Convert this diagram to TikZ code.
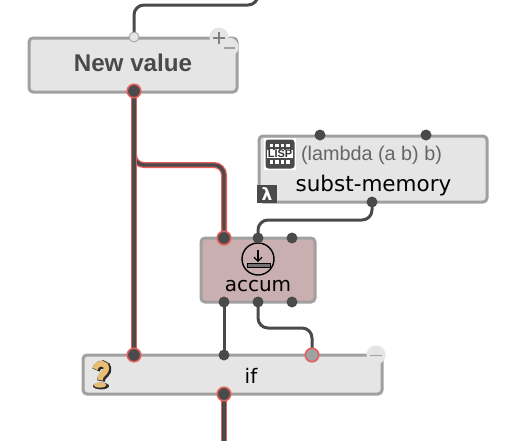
\documentclass[tikz,border=0pt]{standalone}
\usepackage{xcolor}
\usepackage{fontspec}
\setmainfont{DejaVu Sans}
\newfontfamily\helvfont{Liberation Sans}
\definecolor{colBox}{HTML}{E5E5E5}
\definecolor{colBoxLine}{HTML}{A0A0A0}
\definecolor{colAccum}{HTML}{C9AFAF}
\definecolor{colWire}{HTML}{4A4A4A}
\definecolor{colRing}{HTML}{E2605E}
\definecolor{colTan}{HTML}{E8BE72}
\usetikzlibrary{arrows.meta, positioning, calc}
\pgfdeclarelayer{front}
\pgfsetlayers{main,front}
\tikzset{
	boxNode/.style={draw=colBoxLine, fill=colBox, line width=3pt, rounded corners=4pt, inner sep=0pt},
	portNode/.style={circle, fill=colWire, minimum size=11pt, inner sep=0pt},
	portSel/.style={portNode, draw=colRing, line width=1.6pt, minimum size=13.5pt},
	wireNode/.style={colWire, line width=3pt, rounded corners=10pt},
	wireSel/.style={wireNode, line width=3.4pt, preaction={draw=colRing, line width=6pt}},
	btnNode/.style={circle, fill=colBox, minimum size=19pt, inner sep=0pt},
}

\begin{document}
\begin{tikzpicture}[x=1pt, y=-1pt]
	\useasboundingbox (0,0) rectangle (508,440);
	% boxes
	\node[boxNode, minimum width=208pt, minimum height=54pt] (boxValue) at (133,65) {};
	\node[font=\helvfont\bfseries\fontsize{24.2}{24}\selectfont, text=colWire] (txtValue) at (133,62.5) {New value};
	\node[boxNode, minimum width=228pt, minimum height=66pt] (boxSubst) at (373,169) {};
	\node[boxNode, fill=colAccum, minimum width=114pt, minimum height=64pt] (boxAccum) at (258,270) {};
	\node[boxNode, minimum width=299pt, minimum height=39pt] (boxIf) at (232.5,374.5) {};
	\node[font=\fontsize{20}{20}\selectfont, text=black] (txtIf) at (251,375.5) {if};
	\node[font=\fontsize{21.5}{22}\selectfont, text=black] (txtSubst) at (373.5,186) {subst-memory};
	\node[font=\helvfont\fontsize{19.8}{20}\selectfont, text=colWire!85] (txtLambda) at (371.5,155) {(lambda (a b) b)};
	\node[font=\fontsize{20}{21}\selectfont, text=black] (txtAccum) at (258,286) {accum};
	\node[fill=colWire, text=white, minimum width=20pt, minimum height=18pt, inner sep=0pt, font=\bfseries\fontsize{17}{17}\selectfont] (tagLambda) at (267,194) {λ};
	% buttons
	\node[btnNode] (btnPlus) at (219,37) {};
	\node[btnNode] (btnMinus) at (229,47) {};
	\node[btnNode] (btnIf) at (376,355) {};
	\draw[colBoxLine!80!black, line width=1.4pt] (213,38) -- (225,38) (219,32) -- (219,44);
	\draw[colBoxLine, line width=1.4pt] (224,48) -- (235,48);
	\draw[colBoxLine, line width=1.4pt] (370,355.5) -- (382,355.5);
	% lisp icon
	\fill[white] (264,138) rectangle (296,170);
	\fill[colWire, rounded corners=3pt] (265.5,139.5) rectangle (294.5,168.5);
	\foreach \i in {0,1,2,3} {
		\foreach \j in {0,1,2,3} {
			\fill[white] (269.5+\i*5.6,143.5+\j*5.6) rectangle ++(3.6,3.6);
		}
	}
	\node[font=\helvfont\bfseries\fontsize{11}{11}\selectfont, text=colWire!70!black, fill=white, inner sep=0.3pt] (txtLisp) at (280,154) {LISP};
	% accum icon
	\draw[black, line width=1.4pt] (258,259) circle (16);
	\fill[colBoxLine!70!black] (247,263) rectangle (270,267);
	\draw[black, line width=1pt] (247,263) rectangle (270,267);
	\draw[-{Straight Barb[length=4pt,width=8pt]}, black, line width=1.2pt] (258,250) -- (258,262);
	% question icon
	\draw[colWire!60!black, line width=8pt, shift={(1,1)}] (95,369) .. controls (97,361) and (108,362) .. (106,370) .. controls (104,375) and (100,374) .. (100,380);
	\fill[colWire!60!black] (101,386) ellipse (8 and 3.4);
	\draw[colTan, line width=5.5pt] (95,369) .. controls (97,361) and (108,362) .. (106,370) .. controls (104,375) and (100,374) .. (100,380);
	\fill[colTan] (100,385) ellipse (6.5 and 2.6);
	% ports
	\begin{pgfonlayer}{front}
		\node[portSel] (outValue) at (134,91) {};
		\node[circle, draw=colBoxLine, fill=colBox, line width=0.8pt, minimum size=10pt, inner sep=0pt] (inValue) at (134,37) {};
		\node[portNode] (inSubstA) at (320,135) {};
		\node[portNode] (inSubstB) at (426,135) {};
		\node[portNode] (outSubst) at (372,202) {};
		\node[portSel] (inAccumA) at (224,238) {};
		\node[portNode] (inAccumB) at (258,238) {};
		\node[portNode] (inAccumC) at (292,238) {};
		\node[portNode] (outAccumA) at (224,302) {};
		\node[portNode] (outAccumB) at (258,302) {};
		\node[portNode] (outAccumC) at (292,302) {};
		\node[portSel] (inIfA) at (134,355) {};
		\node[portNode] (inIfB) at (224,355) {};
		\node[portSel, fill=colBoxLine] (inIfC) at (312,355) {};
		\node[portSel] (outIf) at (224,394) {};
	\end{pgfonlayer}
	\coordinate (topEnd) at (258,-8);
	\coordinate (bottomEnd) at (224,448);
	\coordinate (branchValue) at (134,155);
	% wires
	\draw[wireNode] (inValue.center) -- (134,5) -- (258,5) -- (topEnd);
	\draw[wireSel] (branchValue) -- (134,165) -- (224,165) -- (inAccumA.center);
	\draw[wireSel] (outValue.center) -- (inIfA.center);
	\draw[wireNode] (outSubst.center) -- (372,220) -- (258,220) -- (inAccumB.center);
	\draw[wireNode] (outAccumA.center) -- (inIfB.center);
	\draw[wireNode] (outAccumB.center) -- (258,328) -- (312,328) -- (inIfC.center);
	\draw[wireSel] (outIf.center) -- (bottomEnd);
\end{tikzpicture}
\end{document}
